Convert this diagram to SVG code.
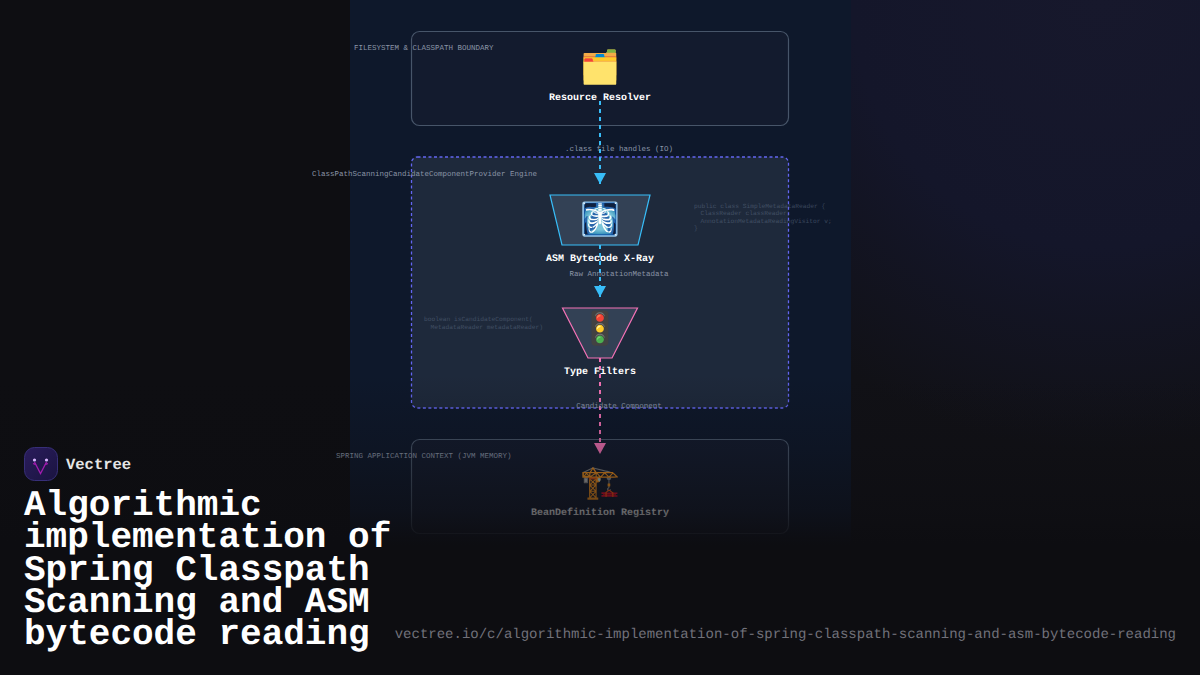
<svg xmlns="http://www.w3.org/2000/svg" width="1200" height="675" viewBox="0 0 1200 675">
<style>
text{font-family:"Liberation Mono","DejaVu Sans Mono",monospace;text-rendering:geometricPrecision}
.grp{font-size:7.5px;fill:#8a94a6}
.edge{font-size:7.5px;fill:#8a94a6;text-anchor:middle}
.code{font-size:6.25px;fill:#64748b;opacity:.5}
.nl{font-size:10px;font-weight:700;fill:#fff;text-anchor:middle}
.emoji{font-family:"Noto Color Emoji",sans-serif;text-anchor:middle;font-size:32px}
.title{font-size:36px;font-weight:700;fill:#fff}
.c{fill:none;stroke-width:2;stroke-dasharray:4 4}
</style>
<defs>
<radialGradient id="rg" gradientUnits="userSpaceOnUse" cx="1100" cy="0" r="450">
<stop offset="0" stop-color="#17182c"/><stop offset=".55" stop-color="#14162a"/><stop offset="1" stop-color="#111116"/>
</radialGradient>
<linearGradient id="fade" x1="0" y1="0" x2="0" y2="1">
<stop offset="0" stop-color="#0d0d11" stop-opacity="0"/><stop offset=".45" stop-color="#0d0d11" stop-opacity=".28"/><stop offset=".8" stop-color="#0d0d11" stop-opacity=".62"/><stop offset="1" stop-color="#0d0d11" stop-opacity="1"/>
</linearGradient>
<linearGradient id="logo" x1="0" y1="0" x2="1" y2="1"><stop offset="0" stop-color="#2a1c5c"/><stop offset="1" stop-color="#1a1440"/></linearGradient>
<marker id="ab" markerUnits="userSpaceOnUse" markerWidth="12" markerHeight="12" refX="11" refY="6" orient="auto"><path d="M0 0L11 6L0 12Z" fill="#38bdf8"/></marker>
<marker id="ap" markerUnits="userSpaceOnUse" markerWidth="12" markerHeight="12" refX="11" refY="6" orient="auto"><path d="M0 0L11 6L0 12Z" fill="#f472b6"/></marker>
</defs>
<g id="background">
<rect width="1200" height="675" fill="#0e0e12"/>
<rect x="851" width="349" height="675" fill="url(#rg)"/>
<rect x="350" width="501" height="675" fill="#0e182b"/>
</g>
<g id="group-filesystem">
<rect x="411.5" y="31.5" width="377" height="94" rx="8" fill="#131b2e" stroke="#475569" stroke-width="1.2"/>
<text class="grp" x="354" y="50">FILESYSTEM &amp; CLASSPATH BOUNDARY</text>
</g>
<g id="group-engine">
<rect x="411.5" y="157" width="377" height="251" rx="6" fill="#1e293b" stroke="#6366f1" stroke-width="1.3" stroke-dasharray="3 2.5"/>
<text class="grp" x="312" y="176">ClassPathScanningCandidateComponentProvider Engine</text>
<text class="code" x="694" y="207.8">public class SimpleMetadataReader {</text>
<text class="code" x="700.5" y="215.3">ClassReader classReader;</text>
<text class="code" x="700.5" y="222.8">AnnotationMetadataReadingVisitor v;</text>
<text class="code" x="694" y="230.3">}</text>
<text class="code" x="424" y="320.8">boolean isCandidateComponent(</text>
<text class="code" x="430.5" y="328.8">MetadataReader metadataReader)</text>
</g>
<g id="group-context">
<rect x="411.5" y="439.5" width="377" height="94" rx="8" fill="#131b2e" stroke="#475569" stroke-width="1.2"/>
<text class="grp" x="336" y="458">SPRING APPLICATION CONTEXT (JVM MEMORY)</text>
</g>
<g id="connectors">
<path class="c" d="M600 101V184" stroke="#38bdf8" marker-end="url(#ab)"/>
<path class="c" d="M600 245V297" stroke="#38bdf8" marker-end="url(#ab)"/>
<path class="c" d="M600 358V454" stroke="#f472b6" marker-end="url(#ap)"/>
</g>
<g id="node-resolver">
<text class="emoji" x="600" y="78">🗂️</text>
<text class="nl" x="600" y="100">Resource Resolver</text>
</g>
<g id="node-xray">
<path d="M550 195H650L638 245H562Z" fill="#334155" stroke="#38bdf8" stroke-width="1.2"/>
<text class="emoji" x="600" y="229.5">🩻</text>
<text class="nl" x="600" y="261">ASM Bytecode X-Ray</text>
</g>
<g id="node-filters">
<path d="M562.5 308H637.5L612 358H588Z" fill="#334155" stroke="#f472b6" stroke-width="1.2"/>
<text class="emoji" x="600" y="338.5">🚦</text>
<text class="nl" x="600" y="374">Type Filters</text>
</g>
<g id="node-registry">
<text class="emoji" x="600" y="492.5">🏗️</text>
<text class="nl" x="600" y="515">BeanDefinition Registry</text>
</g>
<g id="edge-labels">
<text class="edge" x="619" y="151">.class file handles (IO)</text>
<text class="edge" x="619" y="276">Raw AnnotationMetadata</text>
<text class="edge" x="619" y="408">Candidate Component</text>
</g>
<rect id="fade-overlay" x="0" y="375" width="1200" height="170" fill="url(#fade)"/>
<rect id="bottom" x="0" y="545" width="1200" height="130" fill="#0d0d11"/>
<g id="brand">
<rect x="24.5" y="447.5" width="33" height="33" rx="10" fill="url(#logo)" stroke="#372f78"/>
<path d="M34.5 462L40.5 473.5L46.5 462M33 463.5L36.5 465M48 463.5L44.5 465" fill="none" stroke="#a21caf" stroke-width="1.3"/>
<circle cx="34.5" cy="460" r="1.6" fill="#d8b4fe"/><circle cx="46.5" cy="460" r="1.6" fill="#d8b4fe"/>
<text x="66" y="468.5" font-size="15.5" font-weight="700" fill="#e5e5e5">Vectree</text>
</g>
<g id="title">
<text class="title" x="24" y="514.7">Algorithmic</text>
<text class="title" x="24" y="547.1">implementation of</text>
<text class="title" x="24" y="579.5">Spring Classpath</text>
<text class="title" x="24" y="611.9">Scanning and ASM</text>
<text class="title" x="24" y="644.3">bytecode reading</text>
</g>
<text id="url" x="1176" y="637.5" font-size="14" fill="#71717a" text-anchor="end">vectree.io/c/algorithmic-implementation-of-spring-classpath-scanning-and-asm-bytecode-reading</text>
</svg>
